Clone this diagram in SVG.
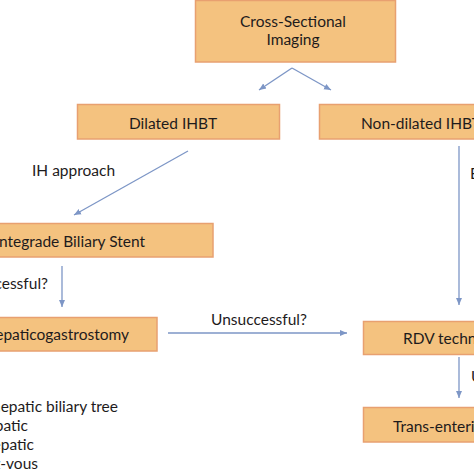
<svg xmlns="http://www.w3.org/2000/svg" width="474" height="474" viewBox="0 0 474 474">
<style>
.box{fill:#F4C27F;stroke:#E8A070;stroke-width:1.5}
.t{font-family:Lato,"Open Sans","Liberation Sans",sans-serif;font-size:15.5px;fill:#1E1B1C}
.c{stroke:#7D96C6;stroke-width:1.3;fill:none;marker-end:url(#ah)}
</style>
<defs>
<marker id="ah" markerUnits="userSpaceOnUse" markerWidth="8" markerHeight="8" refX="7" refY="4" orient="auto">
<path d="M0,1 L7,4 L0,7 Z" fill="#7D96C6"/>
</marker>
</defs>
<rect width="474" height="474" fill="#ffffff"/>
<g id="n-cross">
<rect class="box" x="195.5" y="0.5" width="200" height="61.5"/>
<text class="t" x="293" y="27" text-anchor="middle">Cross-Sectional</text>
<text class="t" x="293" y="45" text-anchor="middle">Imaging</text>
</g>
<g id="n-dilated">
<rect class="box" x="77.5" y="104.5" width="202" height="34.5"/>
<text class="t" x="173" y="129" text-anchor="middle">Dilated IHBT</text>
</g>
<g id="n-nondilated">
<rect class="box" x="319.5" y="104.5" width="202" height="34.5"/>
<text class="t" x="361" y="129">Non-dilated IHBT</text>
</g>
<g id="n-antegrade">
<rect class="box" x="-80" y="223.5" width="293" height="33.5"/>
<text class="t" x="145" y="247" text-anchor="end">Antegrade Biliary Stent</text>
</g>
<g id="n-hepatico">
<rect class="box" x="-80" y="317.5" width="237" height="33.5"/>
<text class="t" x="129" y="340" text-anchor="end">Hepaticogastrostomy</text>
</g>
<g id="n-rdv">
<rect class="box" x="363.5" y="321.5" width="180" height="33"/>
<text class="t" x="403" y="344">RDV technique</text>
</g>
<g id="n-trans">
<rect class="box" x="363.5" y="407.5" width="180" height="34.5"/>
<text class="t" x="393" y="431.5">Trans-enteric</text>
</g>
<g id="connectors">
<line class="c" x1="292" y1="68" x2="259" y2="90"/>
<line class="c" x1="292" y1="68" x2="331" y2="90"/>
<line class="c" x1="188" y1="151" x2="74" y2="215"/>
<line class="c" x1="62" y1="266" x2="62" y2="307"/>
<line class="c" x1="168" y1="333" x2="347" y2="333"/>
<line class="c" x1="459" y1="146" x2="459" y2="305"/>
<line class="c" x1="459" y1="357" x2="459" y2="398"/>
</g>
<g id="labels">
<text class="t" x="32" y="175.5">IH approach</text>
<text class="t" x="470" y="178.5">EH approach</text>
<text class="t" x="48" y="289" text-anchor="end">Unsuccessful?</text>
<text class="t" x="211" y="325">Unsuccessful?</text>
<text class="t" x="471" y="382">Unsuccessful?</text>
</g>
<g id="legend">
<text class="t" x="118" y="412" text-anchor="end">IHBT: Intrahepatic biliary tree</text>
<text class="t" x="28" y="431" text-anchor="end">IH: Intrahepatic</text>
<text class="t" x="34" y="450" text-anchor="end">EH: Extrahepatic</text>
<text class="t" x="38" y="469" text-anchor="end">RDV: Rendez-vous</text>
</g>
</svg>
